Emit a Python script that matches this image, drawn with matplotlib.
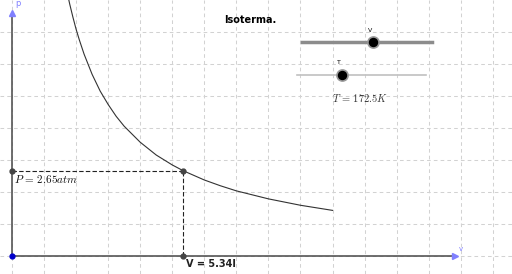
import matplotlib
matplotlib.use("Agg")
import matplotlib.pyplot as plt
from matplotlib.lines import Line2D

plt.rcParams['mathtext.fontset'] = 'cm'

# isotherm (V in l, P in atm)
V_curve = [1.70, 1.80, 1.90, 2.00, 2.10, 2.25, 2.50, 2.75, 3.00, 3.25, 3.50, 4.00,
           4.50, 5.00, 5.34, 6.00, 6.50, 7.00, 8.00, 9.00, 10.00]
P_curve = [8.32, 7.86, 7.45, 7.07, 6.74, 6.29, 5.66, 5.14, 4.72, 4.35, 4.04, 3.54,
           3.14, 2.83, 2.65, 2.36, 2.18, 2.02, 1.77, 1.57, 1.41]

V_sel = 5.34
P_sel = 2.65
T_val = 172.5
V_range = (1, 9)
T_range = (0, 500)

fig = plt.figure(figsize=(5.12, 2.74), dpi=100)
ax = fig.add_axes([0, 0, 1, 1])
ax.set_xlim(-12 / 32.05, 500 / 32.05)
ax.set_ylim(-18.5 / 32, 255.5 / 32)
ax.axis('off')

grid_kw = dict(color='#d2d2d2', lw=0.75, ls=(0, (3.5, 3)), zorder=0)
for gx in range(0, 16):
    ax.axvline(gx, **grid_kw)
for gy in range(0, 8):
    ax.axhline(gy, **grid_kw)

# axes with arrows
ax.plot([0, 13.78], [0, 0], color='#555555', lw=1.2, zorder=2)
ax.plot([0, 0], [0, 7.55], color='#555555', lw=1.2, zorder=2)
ax.plot(13.82, 0, marker='>', color='#8080ff', ms=4, zorder=3)
ax.plot(0, 7.58, marker='^', color='#8080ff', ms=4, zorder=3)
ax.text(13.95, 0.12, 'v', color='#8080ff', fontsize=5, ha='left', va='bottom')
ax.text(0.1, 7.72, 'p', color='#8080ff', fontsize=6, ha='left', va='bottom')

# isotherm
ax.plot(V_curve, P_curve, color='#333333', lw=0.8, zorder=3)

# projections
ax.plot([0, V_sel], [P_sel, P_sel], color='#222222', lw=0.8, ls=(0, (4, 2)), zorder=3)
ax.plot([V_sel, V_sel], [0, P_sel], color='#222222', lw=0.8, ls=(0, (4, 2)), zorder=3)
ax.plot([0, V_sel, V_sel], [P_sel, P_sel, 0], 'o', color='#444444', ms=3.5, zorder=4)
ax.plot(0, 0, 'o', color='#0000cc', ms=3.5, zorder=4)

ax.text(0.06, P_sel - 0.06, r'$P\,=\,%.2fatm$' % P_sel, fontsize=8,
        ha='left', va='top', color='#111111')
ax.text(V_sel + 0.08, -0.1, 'V = %.2fl' % V_sel, fontsize=7, fontweight='bold',
        ha='left', va='top', color='#222222')

# title
fig.text(250 / 512, 1 - 20 / 274, 'Isoterma.', fontsize=7, fontweight='bold',
         ha='center', va='center')


def slider(x0, x1, y, frac, lw, col, label):
    yy = 1 - y / 274
    fig.add_artist(Line2D([x0 / 512, x1 / 512], [yy, yy], color=col, lw=lw,
                          transform=fig.transFigure, zorder=5))
    kx = (x0 + frac * (x1 - x0)) / 512
    fig.add_artist(Line2D([kx], [yy], marker='o', ms=8, color='#000000',
                          mec='#999999', mew=1.2, transform=fig.transFigure, zorder=6))
    fig.text(kx - 5 / 512, yy + 12 / 274, label, fontsize=4.5, ha='left',
             va='center')


slider(302, 432, 42, (V_sel - V_range[0]) / (V_range[1] - V_range[0]), 2.5,
       '#8c8c8c', 'V')
slider(297, 426, 75, (T_val - T_range[0]) / (T_range[1] - T_range[0]), 1.2,
       '#c0c0c0', 'T')
fig.text(332 / 512, 1 - 98 / 274, r'$T\,=\,%.1fK$' % T_val, fontsize=7.5,
         ha='left', va='center', color='#333333')

fig.savefig('out.png', dpi=100)
